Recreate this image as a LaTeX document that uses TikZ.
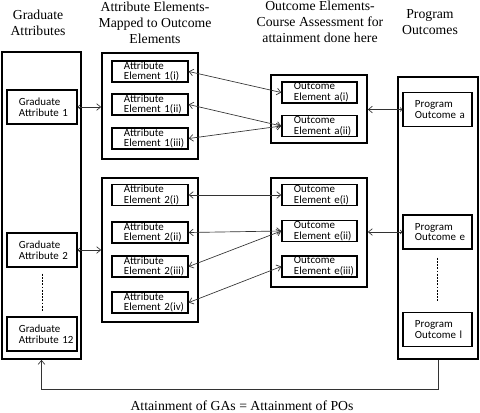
\documentclass[tikz,border=0pt]{standalone}
\usepackage{fontspec}
\setmainfont{Liberation Serif}
\newfontfamily\boxfont{Carlito}
\usetikzlibrary{arrows.meta,fit}

\tikzset{
    heading/.style={align=center,font=\rmfamily\fontsize{10.3}{12}\selectfont},
    outerbox/.style={draw,line width=1.3pt,inner sep=0pt},
    elembox/.style={draw,line width=1.1pt,inner xsep=0pt,inner ysep=0pt,
        align=left,font=\boxfont\fontsize{8.2}{8}\selectfont,
        execute at begin node={\leftskip=9pt}},
    link/.style={draw=black!80,line width=.5pt,<->},
    sidelink/.style={draw=black!80,line width=.5pt,
        arrows={Straight Barb[length=1.2pt,width=3pt]-Straight Barb[length=3pt,width=5pt]}},
    dots/.style={line width=.6pt,dash pattern=on 1.4pt off 1pt}
}

\begin{document}
\begin{tikzpicture}[
    x={(0.75pt,0pt)},y={(0pt,-0.75pt)},
    >={Straight Barb[length=3pt,width=5pt]}]
    \useasboundingbox (0,0) rectangle (480,412);
    % headings
    \node[heading] (hga) at (38,22.5) {Graduate\\Attributes};
    \node[heading] (hae) at (155,23) {Attribute Elements-\\Mapped to Outcome\\Elements};
    \node[heading] (hoe) at (320,22) {Outcome Elements-\\Course Assessment for\\attainment done here};
    \node[heading] (hpo) at (430,22.5) {Program\\Outcomes};
    % outer boxes
    \node[outerbox,fit={(2,52) (81,359)}] (gabox) {};
    \node[outerbox,fit={(102,53) (198,159)}] (aeboxA) {};
    \node[outerbox,fit={(102,178) (198,322)}] (aeboxB) {};
    \node[outerbox,fit={(271,75) (367,143)}] (oeboxA) {};
    \node[outerbox,fit={(271,178) (367,287)}] (oeboxB) {};
    \node[outerbox,fit={(398,77) (478,359)}] (pobox) {};
    % elements
    \foreach \nm/\yy/\tx in {ga1/107/1,ga2/250/2,ga12/334/12}
        \node[elembox,text width=52.5pt,minimum height=25.5pt] (\nm) at (42,\yy)
            {Graduate\\Attribute \tx};
    \foreach \nm/\yy/\tx in {ae1i/71.5/1(i),ae1ii/104.5/1(ii),ae1iii/138.5/1(iii),
        ae2i/195/2(i),ae2ii/232.5/2(ii),ae2iii/266.5/2(iii),ae2iv/302.5/2(iv)}
        \node[elembox,text width=57pt,minimum height=15.75pt] (\nm) at (150,\yy)
            {Attribute\\Element \tx};
    \foreach \nm/\yy/\tx in {oeai/92.5/a(i),oeaii/126/a(ii),
        oeei/195/e(i),oeeii/231/e(ii),oeeiii/266.5/e(iii)}
        \node[elembox,text width=56.25pt,minimum height=16pt] (\nm) at (319.5,\yy)
            {Outcome\\Element \tx};
    \foreach \nm/\yy/\tx in {poa/109.5/a,poe/232/e,pol/329.5/l}
        \node[elembox,text width=51.75pt,minimum height=25.5pt] (\nm) at (437.5,\yy)
            {Program\\Outcome \tx};
    % connectors
    \draw[sidelink] (ga1.east) -- (ga1.east -| aeboxA.west);
    \draw[sidelink] (ga2.east) -- (ga2.east -| aeboxB.west);
    \draw[sidelink] (poa.west) -- (poa.west -| oeboxA.east);
    \draw[sidelink] (poe.west) -- (poe.west -| oeboxB.east);
    \foreach \a/\b in {ae1i/oeai,ae1ii/oeaii,ae1iii/oeaii,
        ae2i/oeei,ae2ii/oeeii,ae2iii/oeeii,ae2iv/oeeiii}
        \draw[link] (\a.east) -- (\b.west);
    \draw[dots,shorten <=4.5pt,shorten >=3.75pt] (ga2.south) -- (ga12.north);
    \draw[dots,shorten <=6pt,shorten >=7pt] (poe.south) -- (pol.north);
    \draw[draw=black!80,line width=.5pt,->] (pobox.south) -- ++(0,29) -| (gabox.south);
    \node[heading] (res) at (242,406) {Attainment of GAs = Attainment of POs};
\end{tikzpicture}
\end{document}
